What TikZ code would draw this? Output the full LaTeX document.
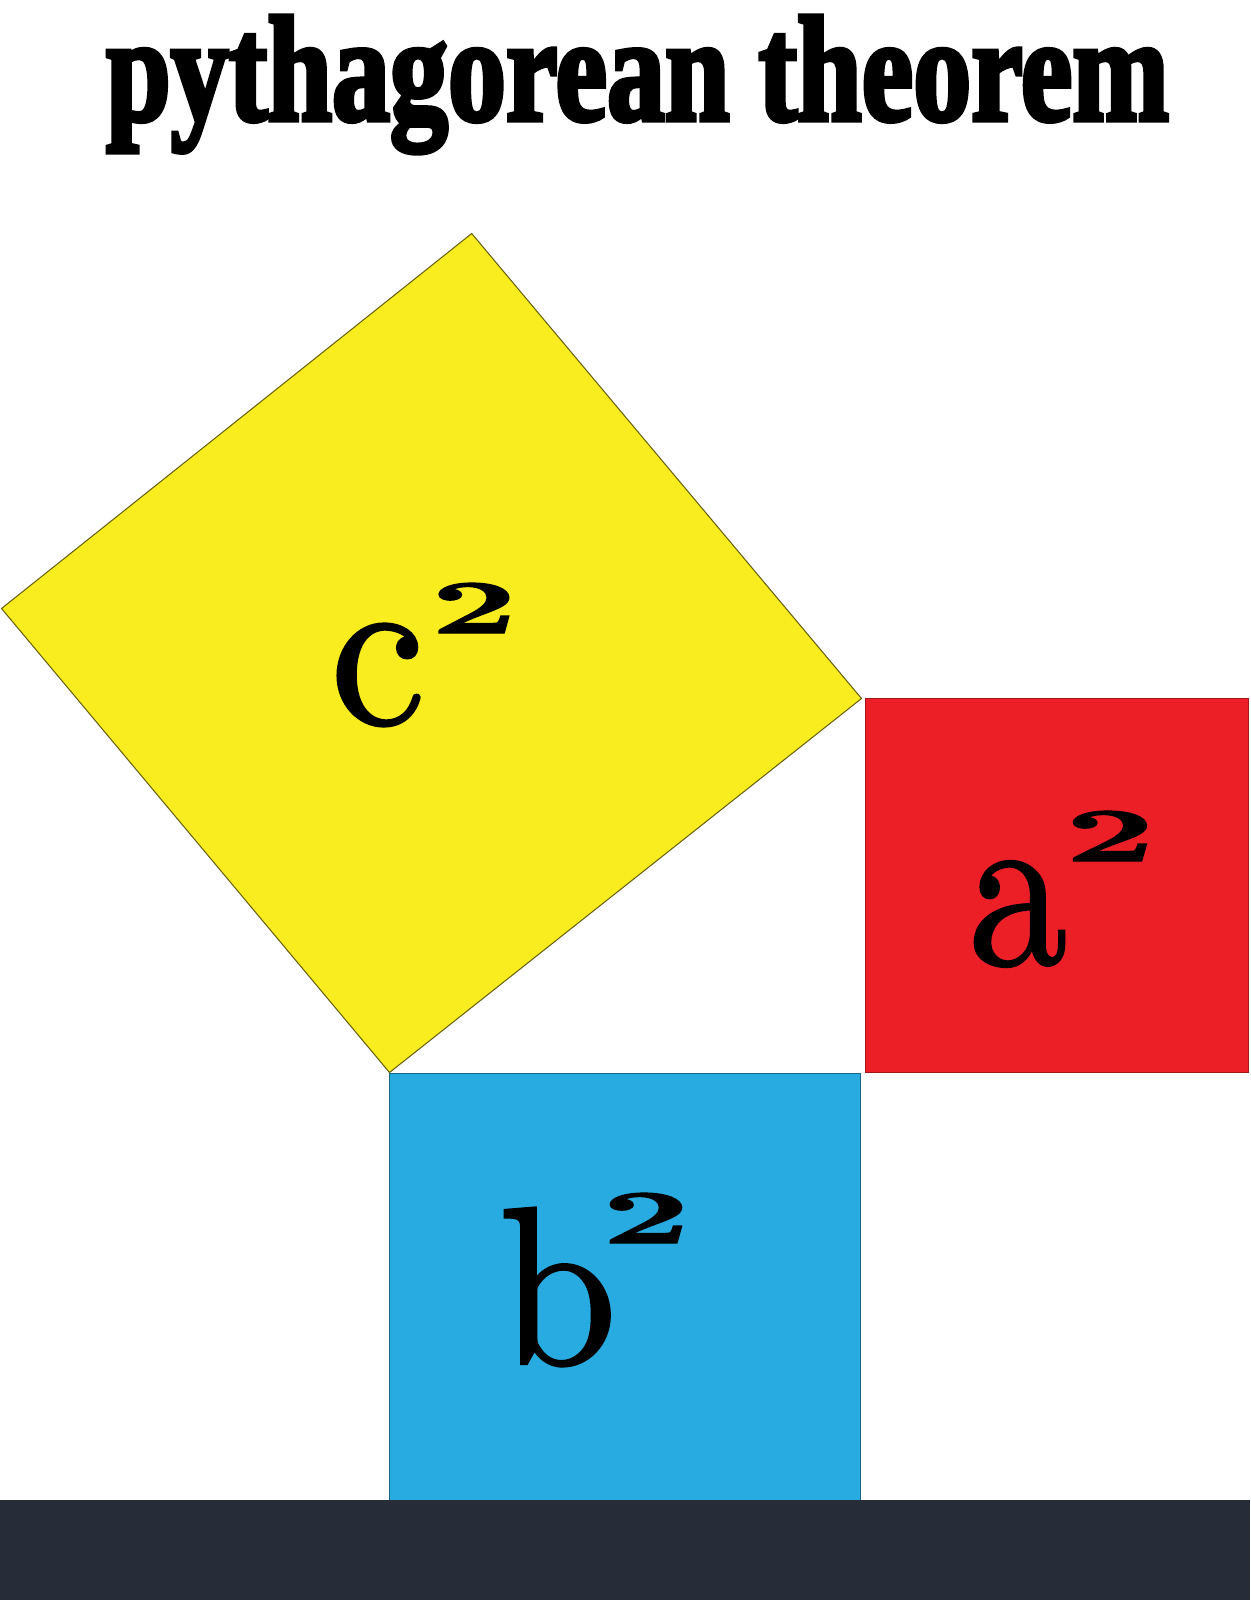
\documentclass[tikz,border=0pt]{standalone}
\usepackage{fontspec}
\usepackage{graphicx}
\setmainfont{Liberation Serif}
\newfontfamily\titlefont[FakeBold=3.5]{Liberation Serif Bold}
\newfontfamily\letterfont[FakeBold=1.2]{Latin Modern Roman}
\newfontfamily\twofamily[BoldFeatures={FakeBold=1.5}]{Latin Modern Roman}
\definecolor{sqyellow}{HTML}{F9EC1F}
\definecolor{sqred}{HTML}{EC1F27}
\definecolor{sqblue}{HTML}{27ABE1}
\definecolor{baredge}{HTML}{272D38}
\tikzset{
  sq/.style={line width=1pt},
  letter/.style={inner sep=0pt, outer sep=0pt, anchor=center, text=black},
}
\newcommand{\sqletter}[3]{\resizebox{#1pt}{#2pt}{\letterfont #3}}
\newcommand{\sqtwo}[2]{\resizebox{#1pt}{#2pt}{\twofamily\bfseries 2}}
\begin{document}
\begin{tikzpicture}[x=1pt,y=-1pt]
\useasboundingbox (0,0) rectangle (1250,1600);
\fill[white] (0,0) rectangle (1250,1600);
% title
\node[inner sep=0pt, anchor=base west] (title) at (106,120)
  {\resizebox{1062pt}{104pt}{\titlefont pythagorean theorem}};
% squares
\coordinate (yT) at (471.7,233.5);
\coordinate (yR) at (861.5,698.5);
\coordinate (yB) at (389.5,1072.5);
\coordinate (yL) at (1.5,608.5);
\filldraw[sq, fill=sqyellow, draw=sqyellow!40!black] (yT) -- (yR) -- (yB) -- (yL) -- cycle;
\filldraw[sq, fill=sqred, draw=sqred!70!black] (865.5,698.5) rectangle (1248.5,1072.5);
\filldraw[sq, fill=sqblue, draw=sqblue!60!black] (389.5,1073.5) rectangle (860.5,1520);
% labels
\node[letter] (c) at (378,675) {\sqletter{95}{100}{c}};
\node[letter] (c2) at (474,608) {\sqtwo{86}{50}};
\node[letter] (a) at (1018,914) {\sqletter{99}{103}{a}};
\node[letter] (a2) at (1110,836) {\sqtwo{90}{50}};
\node[letter] (b) at (558,1287) {\sqletter{118}{156}{b}};
\node[letter] (b2) at (646,1218) {\sqtwo{88}{50}};
% bottom bar
\fill[baredge] (0,1500) rectangle (1250,1600);
\end{tikzpicture}
\end{document}
